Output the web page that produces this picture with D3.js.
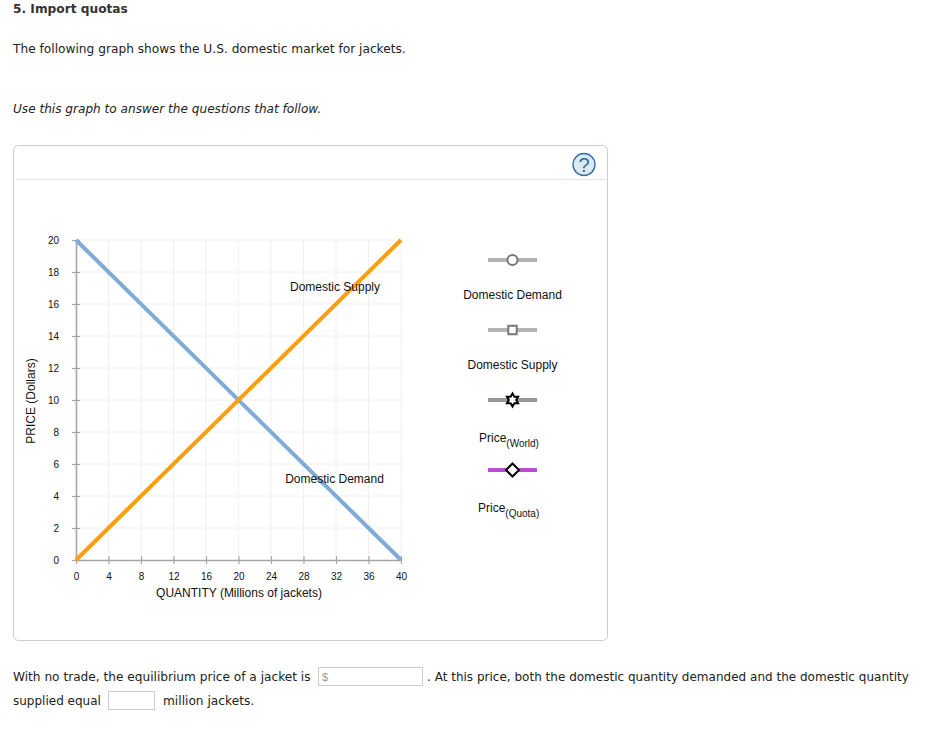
<!DOCTYPE html>
<html>
<head>
<meta charset="utf-8">
<script src="https://cdn.jsdelivr.net/npm/d3@7"></script>
<style>
body { margin: 0; background: #fff; }
svg { display: block; }
.page { font-family: "DejaVu Sans", sans-serif; font-size: 12.2px; fill: #222; }
.chart text { font-family: "Liberation Sans", Arial, sans-serif; fill: #111; }
</style>
</head>
<body>
<script>
// Chart values
var quantityTicks = [0, 4, 8, 12, 16, 20, 24, 28, 32, 36, 40];
var priceTicks = [0, 2, 4, 6, 8, 10, 12, 14, 16, 18, 20];
var demandQuantity = [0, 40];
var demandPrice = [20, 0];
var supplyQuantity = [0, 40];
var supplyPrice = [0, 20];
var legendNames = ["Domestic Demand", "Domestic Supply", "Price", "Price"];
var legendSubs = ["", "", "(World)", "(Quota)"];
var legendColors = ["#b3b3b3", "#b3b3b3", "#999999", "#b84fd6"];
var legendSymbols = ["circle", "square", "star", "diamond"];

var svgWidth = 930;
var svgHeight = 734;

var svg = d3.select("body")
    .append("svg")
    .attr("width", svgWidth)
    .attr("height", svgHeight);

// Question text above the panel
var page = svg.append("g").attr("class", "page");
page.append("text").attr("x", 13).attr("y", 13)
    .attr("font-weight", "bold").style("fill", "#333")
    .text("5. Import quotas");
page.append("text").attr("x", 13).attr("y", 53)
    .text("The following graph shows the U.S. domestic market for jackets.");
page.append("text").attr("x", 13).attr("y", 113)
    .attr("font-style", "italic")
    .style("font-size", "12.1px")
    .text("Use this graph to answer the questions that follow.");

// Panel
svg.append("rect")
    .attr("x", 13.5).attr("y", 145.5)
    .attr("width", 594).attr("height", 495)
    .attr("rx", 5)
    .attr("fill", "#fff")
    .attr("stroke", "#cccccc");
svg.append("line")
    .attr("x1", 16).attr("x2", 605)
    .attr("y1", 179.5).attr("y2", 179.5)
    .attr("stroke", "#e2e2e2");

// Help button
svg.append("circle")
    .attr("cx", 584).attr("cy", 164.5).attr("r", 11)
    .attr("fill", "#dce8f2")
    .attr("stroke", "#2f6ea5")
    .attr("stroke-width", 1.3);
svg.append("text")
    .attr("x", 584).attr("y", 171.5)
    .attr("text-anchor", "middle")
    .attr("font-family", "'Liberation Sans', sans-serif")
    .attr("font-size", 20)
    .attr("fill", "#2f6ea5")
    .text("?");

// Plot
var x = d3.scaleLinear().domain([0, 40]).range([76, 401]);
var y = d3.scaleLinear().domain([0, 20]).range([560, 240]);

var chart = svg.append("g").attr("class", "chart");

// Grid
chart.append("g").selectAll("line")
    .data(quantityTicks.slice(1))
    .enter().append("line")
    .attr("x1", d => x(d)).attr("x2", d => x(d))
    .attr("y1", y(20)).attr("y2", y(0))
    .attr("stroke", "#f0f0f0")
    .attr("stroke-width", 1);
chart.append("g").selectAll("line")
    .data(priceTicks.slice(1))
    .enter().append("line")
    .attr("x1", x(0)).attr("x2", x(40))
    .attr("y1", d => y(d)).attr("y2", d => y(d))
    .attr("stroke", "#f0f0f0")
    .attr("stroke-width", 1);

// Axes
var bottomAxis = d3.axisBottom(x).tickValues(quantityTicks).tickSize(0).tickPadding(13);
var leftAxis = d3.axisLeft(y).tickValues(priceTicks).tickSize(0).tickPadding(17);

var xAxisG = chart.append("g")
    .attr("transform", `translate(0, ${y(0)})`)
    .call(bottomAxis);
var yAxisG = chart.append("g")
    .attr("transform", `translate(${x(0)}, 0)`)
    .call(leftAxis);

[xAxisG, yAxisG].forEach(function (g) {
    g.select(".domain").attr("stroke", "#a6a6a6").attr("stroke-width", 1.6);
    g.selectAll("text").attr("font-size", 10).attr("fill", "#111");
});

// Tick marks cross the axis lines
xAxisG.selectAll(".tick").append("line")
    .attr("y1", -4).attr("y2", 4)
    .attr("stroke", "#a6a6a6").attr("stroke-width", 1.2);
yAxisG.selectAll(".tick").append("line")
    .attr("x1", -4).attr("x2", 4)
    .attr("stroke", "#a6a6a6").attr("stroke-width", 1.2);

// Curves
var line = d3.line().x(d => x(d[0])).y(d => y(d[1]));

chart.append("path")
    .datum(d3.zip(demandQuantity, demandPrice))
    .attr("d", line)
    .attr("fill", "none")
    .attr("stroke", "#7eabd8")
    .attr("stroke-width", 4);
chart.append("path")
    .datum(d3.zip(supplyQuantity, supplyPrice))
    .attr("d", line)
    .attr("fill", "none")
    .attr("stroke", "#ff9d0a")
    .attr("stroke-width", 4);

// Curve labels
chart.append("text")
    .attr("x", 335).attr("y", 291)
    .attr("text-anchor", "middle")
    .attr("font-size", 12)
    .text("Domestic Supply");
chart.append("text")
    .attr("x", 334.5).attr("y", 483)
    .attr("text-anchor", "middle")
    .attr("font-size", 12)
    .text("Domestic Demand");

// Axis titles
chart.append("text")
    .attr("x", 239).attr("y", 597)
    .attr("text-anchor", "middle")
    .attr("font-size", 12)
    .text("QUANTITY (Millions of jackets)");
chart.append("text")
    .attr("transform", "translate(35, 401) rotate(-90)")
    .attr("text-anchor", "middle")
    .attr("font-size", 12)
    .text("PRICE (Dollars)");

// Legend
var legendY = d3.scalePoint().domain(d3.range(4)).range([260, 470]);
var legend = chart.append("g").selectAll("g")
    .data(legendNames)
    .enter().append("g")
    .attr("transform", (d, i) => `translate(512.5, ${legendY(i)})`);

legend.append("line")
    .attr("x1", -24.5).attr("x2", 24.5)
    .attr("stroke", (d, i) => legendColors[i])
    .attr("stroke-width", 4);

var symbolPaths = {
    circle: d3.symbol().type(d3.symbolCircle).size(80)(),
    square: d3.symbol().type(d3.symbolSquare).size(70)(),
    star: "M0,-6.5L1.9,-3.3L5.6,-3.3L3.7,0L5.6,3.3L1.9,3.3L0,6.5L-1.9,3.3L-5.6,3.3L-3.7,0L-5.6,-3.3L-1.9,-3.3Z",
    diamond: "M0,-6.5L6.5,0L0,6.5L-6.5,0Z"
};
legend.append("path")
    .attr("d", (d, i) => symbolPaths[legendSymbols[i]])
    .attr("fill", "#fff")
    .attr("stroke", (d, i) => i < 2 ? "#777777" : "#000000")
    .attr("stroke-width", 2);

var legendText = legend.append("text")
    .attr("y", (d, i) => i < 2 ? 39 : 42)
    .attr("x", (d, i) => i < 2 ? 0 : [0, 0, -33.5, -34.5][i])
    .attr("text-anchor", (d, i) => i < 2 ? "middle" : "start")
    .attr("font-size", 12);
legendText.append("tspan").text(d => d);
legendText.append("tspan")
    .attr("dy", 5)
    .attr("font-size", 10)
    .text((d, i) => legendSubs[i]);

// Question text below the panel
page.append("text").attr("x", 13).attr("y", 681)
    .style("font-size", "12.15px")
    .text("With no trade, the equilibrium price of a jacket is");
svg.append("rect")
    .attr("x", 318.5).attr("y", 667.5)
    .attr("width", 104).attr("height", 18)
    .attr("fill", "#fff").attr("stroke", "#cccccc");
svg.append("text")
    .attr("x", 322).attr("y", 681)
    .attr("font-family", "'Liberation Sans', sans-serif")
    .attr("font-size", 11)
    .attr("fill", "#999999")
    .text("$");
page.append("text").attr("x", 427).attr("y", 681)
    .style("font-size", "12.03px")
    .text(". At this price, both the domestic quantity demanded and the domestic quantity");
page.append("text").attr("x", 13).attr("y", 705)
    .style("font-size", "12px")
    .text("supplied equal");
svg.append("rect")
    .attr("x", 108.5).attr("y", 691.5)
    .attr("width", 46).attr("height", 18)
    .attr("fill", "#fff").attr("stroke", "#cccccc");
page.append("text").attr("x", 163).attr("y", 705)
    .text("million jackets.");
</script>
</body>
</html>
